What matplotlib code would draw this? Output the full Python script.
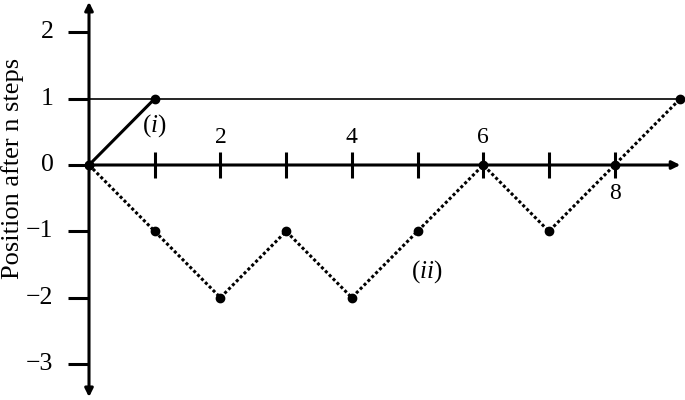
import numpy as np
import matplotlib
matplotlib.use('Agg')
import matplotlib.pyplot as plt

plt.rcParams['font.family'] = ['Liberation Serif', 'DejaVu Serif']
plt.rcParams['mathtext.fontset'] = 'custom'
plt.rcParams['mathtext.it'] = 'Liberation Serif:italic'
plt.rcParams['mathtext.rm'] = 'Liberation Serif'

# 数据：两条随机游走路径
steps = [0, 1, 2, 3, 4, 5, 6, 7, 8, 9]
path_ii = [0, -1, -2, -1, -2, -1, 0, -1, 0, 1]
path_i_x = [0, 1]
path_i_y = [0, 1]
y_ticks = [2, 1, 0, -1, -2, -3]
y_tick_labels = ['2', '1', '0', '\u22121', '\u22122', '\u22123']
x_ticks = [1, 2, 3, 4, 5, 6, 7, 8]
x_labels_above = [2, 4, 6]
x_labels_below = [8]

fig = plt.figure(figsize=(6.85, 4.0), dpi=100)
ax = fig.add_axes([0, 0, 1, 1])
ux, uy = 65.7, 66.3
ax.set_xlim(-89 / ux, (685 - 89) / ux)
ax.set_ylim(-(400 - 165) / uy, 165 / uy)
ax.axis('off')

lw_axis = 2.2
# y 轴（两端箭头）
ax.annotate('', xy=(0, 2.46), xytext=(0, -0.05),
            arrowprops=dict(arrowstyle='-|>', lw=lw_axis, color='black',
                            mutation_scale=12, shrinkA=0, shrinkB=0))
ax.annotate('', xy=(0, -3.5), xytext=(0, 0.05),
            arrowprops=dict(arrowstyle='-|>', lw=lw_axis, color='black',
                            mutation_scale=12, shrinkA=0, shrinkB=0))
# x 轴
ax.annotate('', xy=(9.0, 0), xytext=(0, 0),
            arrowprops=dict(arrowstyle='-|>', lw=lw_axis, color='black',
                            mutation_scale=12, shrinkA=0, shrinkB=0))

# y 刻度
for yv, lab in zip(y_ticks, y_tick_labels):
    ax.plot([-0.32, 0], [yv, yv], color='black', lw=lw_axis, solid_capstyle='butt')
    ax.text(-0.54, yv, lab, ha='right', va='center', fontsize=18.5)

# x 刻度
for xv in x_ticks:
    ax.plot([xv, xv], [-0.19, 0.19], color='black', lw=lw_axis, solid_capstyle='butt')
for xv in x_labels_above:
    ax.text(xv, 0.42, str(xv), ha='center', va='center', fontsize=17)
for xv in x_labels_below:
    ax.text(xv, -0.43, str(xv), ha='center', va='center', fontsize=17)

# y=1 的水平线
ax.plot([0, steps[-1]], [1, 1], color='black', lw=1.2)

# 路径 (i)
ax.plot(path_i_x, path_i_y, color='black', lw=2.2, marker='o', markersize=6)

# 路径 (ii)
ax.plot(steps, path_ii, color='black', lw=2.2, linestyle=(0, (1, 0.8)))
ax.plot(steps, path_ii, color='black', lw=0, marker='o', markersize=6)

ax.text(1.0, 0.59, r'($i$)', ha='center', va='center', fontsize=18)
ax.text(5.14, -1.61, r'($ii$)', ha='center', va='center', fontsize=18)

fig.text(13 / 685, 1 - 168 / 400, 'Position after n steps', rotation=90,
         ha='center', va='center', fontsize=19)

fig.savefig('out.png', dpi=100)
